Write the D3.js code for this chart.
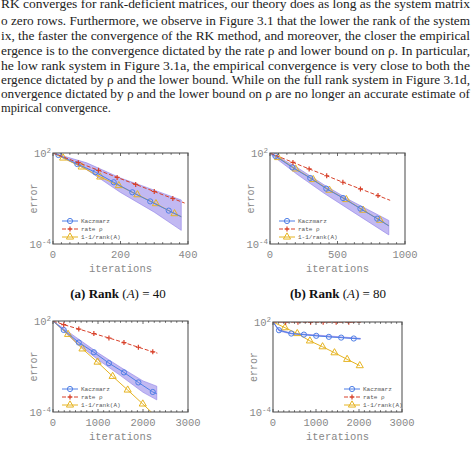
<!DOCTYPE html>
<html><head><meta charset="utf-8">
<script src="https://cdn.jsdelivr.net/npm/d3@7"></script>
<style>body{margin:0;background:#fff}</style>
</head><body><svg id="fig" width="474" height="453"></svg>
<script>
// paragraph lines above the figure (left edge cut off in the reference)
const textLines = [
  ["RK converges for rank-deficient matrices, our theory does as long as the system matrix", 1, 4],
  ["o zero rows. Furthermore, we observe in Figure 3.1 that the lower the rank of the system", 1, 21],
  ["ix, the faster the convergence of the RK method, and moreover, the closer the empirical", 1, 36],
  ["ergence is to the convergence dictated by the rate \u03c1 and lower bound on \u03c1. In particular,", 1, 51],
  ["he low rank system in Figure 3.1a, the empirical convergence is very close to both the", 1, 66],
  ["ergence dictated by \u03c1 and the lower bound. While on the full rank system in Figure 3.1d,", 1, 80],
  ["onvergence dictated by \u03c1 and the lower bound on \u03c1 are no longer an accurate estimate of", 1, 94],
  ["mpirical convergence.", 1, 108]
];

// values are log10(error)
const kaczA = {x: [0, 16, 72, 126, 180, 235, 288, 343, 380], y: [2, 1.87, 1.27, 0.73, 0.07, -0.59, -1.19, -1.8, -2.2], m: [1, 2, 3, 4, 5, 6, 7]};
const rateA = {x: [0, 75, 135, 190, 245, 300, 355, 390], y: [2, 1.36, 0.86, 0.39, -0.07, -0.54, -1.0, -1.3], m: [1, 2, 3, 4, 5, 6]};
const lowA = {x: [0, 30, 85, 140, 195, 250, 305, 360, 380], y: [2, 1.67, 1.08, 0.42, -0.15, -0.75, -1.34, -2.0, -2.2], m: [1, 2, 3, 4, 5, 6, 7]};
const bandA = {x: [0, 100, 200, 300, 380], hi: [2, 1.35, 0.35, -0.45, -1.1], lo: [2, 0.9, -0.6, -1.9, -3.1]};

const kaczB = {x: [0, 40, 166, 298, 417, 541, 670, 794, 880], y: [2, 1.8, 1.05, 0.35, -0.35, -0.97, -1.67, -2.33, -2.8], m: [1, 2, 3, 4, 5, 6, 7]};
const rateB = {x: [0, 170, 290, 420, 540, 670, 800, 890], y: [2, 1.38, 0.95, 0.5, 0.07, -0.37, -0.81, -1.12], m: [1, 2, 3, 4, 5, 6]};
const lowB = {x: [0, 60, 190, 320, 440, 565, 690, 815, 880], y: [2, 1.7, 0.95, 0.25, -0.45, -1.07, -1.77, -2.43, -2.8], m: [1, 2, 3, 4, 5, 6, 7]};
const bandB = {x: [0, 200, 400, 600, 880], hi: [2.05, 1.05, -0.1, -1.15, -2.45], lo: [1.95, 0.6, -0.65, -1.8, -3.4]};

const kaczC = {x: [0, 238, 573, 908, 1243, 1577, 1897, 2217, 2306], y: [2, 1.41, 0.58, -0.06, -0.78, -1.39, -2.05, -2.68, -2.8], m: [1, 2, 3, 4, 5, 6, 7]};
const rateC = {x: [0, 238, 573, 908, 1243, 1577, 1897, 2217, 2320], y: [2, 1.76, 1.47, 1.17, 0.88, 0.58, 0.27, -0.03, -0.12], m: [1, 2, 3, 4, 5, 6, 7]};
const lowC = {x: [0, 335, 655, 990, 1325, 1660, 1995, 2400], y: [2, 1.12, 0.16, -0.71, -1.65, -2.55, -3.47, -4.6], m: [1, 2, 3, 4, 5, 6]};
const bandC = {x: [0, 500, 1000, 1500, 2000, 2306], hi: [2, 0.95, -0.1, -1.05, -1.95, -2.3], lo: [2, 0.6, -0.55, -1.6, -2.7, -3.2]};

const kaczD = {x: [0, 139, 425, 719, 1005, 1299, 1585, 1878, 2033], y: [2, 1.45, 1.23, 1.16, 1.08, 1.01, 0.96, 0.9, 0.88], m: [1, 2, 3, 4, 5, 6, 7]};
const rateD = {x: [0, 294, 580, 874, 1167, 1469, 1762, 2050], y: [1.99, 1.99, 1.99, 1.98, 1.98, 1.98, 1.98, 1.98], m: [1, 2, 3, 4, 5, 6]};
const lowD = {x: [0, 278, 564, 858, 1152, 1430, 1724, 2018], y: [2, 1.62, 1.23, 0.74, 0.35, -0.05, -0.49, -0.91], m: [1, 2, 3, 4, 5, 6, 7]};
const bandD = {x: [0, 139, 425, 2033], hi: [2, 1.5, 1.26, 0.91], lo: [2, 1.4, 1.2, 0.86]};

const panels = [
  {box: [53, 153, 188, 244], xmax: 400, xticks: [0, 200, 400], k: kaczA, r: rateA, l: lowA, b: bandA, cap: ["(a) ", "Rank", "40"], capX: 118, capY: 298, leg: [62, 221]},
  {box: [270, 153, 405, 244], xmax: 1000, xticks: [0, 500, 1000], k: kaczB, r: rateB, l: lowB, b: bandB, cap: ["(b) ", "Rank", "80"], capX: 338, capY: 298, leg: [279, 221]},
  {box: [53, 321, 188, 412], xmax: 3000, xticks: [0, 1000, 2000, 3000], k: kaczC, r: rateC, l: lowC, b: bandC, leg: [62, 389]},
  {box: [273, 322, 402, 412], xmax: 3000, xticks: [0, 1000, 2000, 3000], k: kaczD, r: rateD, l: lowD, b: bandD, leg: [344, 389]}
];

const blue = "#4f7fe6", red = "#d8412a", gold = "#e6b422", band = "#8f7fe8", grey = "#888";
const svg = d3.select("#fig");
const serif = "'Liberation Serif', 'DejaVu Serif', serif";

textLines.forEach(([t, x, y], i) => {
  const el = svg.append("text").attr("x", x).attr("y", y + 4)
    .attr("font-family", serif).attr("font-size", 12.4).attr("fill", "#222").text(t);
  if (i < 7) el.attr("textLength", 470 - x).attr("lengthAdjust", "spacingAndGlyphs");
});

const mono = "'Liberation Mono', 'DejaVu Sans Mono', monospace";

panels.forEach(p => {
  const [x0, y0, x1, y1] = p.box;
  const x = d3.scaleLinear().domain([0, p.xmax]).range([x0, x1]);
  const y = d3.scaleLog().domain([1e-4, 1e2]).range([y1, y0]);
  const g = svg.append("g");
  const clipId = "c" + x0 + y0;
  g.append("clipPath").attr("id", clipId).append("rect").attr("x", x0).attr("y", y0).attr("width", x1 - x0).attr("height", y1 - y0);
  const plot = g.append("g").attr("clip-path", `url(#${clipId})`);

  const pts = s => s.x.map((v, i) => [v, Math.pow(10, s.y[i])]);
  const bandPts = p.b.x.map((v, i) => ({x: v, hi: Math.pow(10, p.b.hi[i]), lo: Math.pow(10, p.b.lo[i])}));
  plot.append("path").attr("d", d3.area().x(d => x(d.x)).y0(d => y(d.lo)).y1(d => y(d.hi))(bandPts))
    .attr("fill", band).attr("fill-opacity", 0.55).attr("stroke", band).attr("stroke-width", 0.6);

  const line = d3.line().x(d => x(d[0])).y(d => y(d[1]));
  const drawSeries = (s, color, dash, marker) => {
    const d = pts(s);
    plot.append("path").attr("d", line(d)).attr("fill", "none").attr("stroke", color)
      .attr("stroke-width", 1).attr("stroke-dasharray", dash);
    s.m.forEach(i => drawMarker(plot, x(d[i][0]), y(d[i][1]), color, marker));
  };
  drawSeries(p.l, gold, null, "tri");
  drawSeries(p.k, blue, null, "circ");
  drawSeries(p.r, red, "4,2", "plus");

  // axes box
  g.append("rect").attr("x", x0).attr("y", y0).attr("width", x1 - x0).attr("height", y1 - y0)
    .attr("fill", "none").attr("stroke", "#666").attr("stroke-width", 1.2);
  const minor = d3.range(0, p.xmax + 1e-9, p.xmax / (p.xticks.length - 1) / 8);
  minor.forEach(v => {
    const big = p.xticks.includes(Math.round(v));
    const len = big ? 3 : 1.8;
    g.append("line").attr("x1", x(v)).attr("x2", x(v)).attr("y1", y0).attr("y2", y0 + len).attr("stroke", "#444").attr("stroke-width", 0.8);
    g.append("line").attr("x1", x(v)).attr("x2", x(v)).attr("y1", y1).attr("y2", y1 - len).attr("stroke", "#444").attr("stroke-width", 0.8);
  });
  p.xticks.forEach(v => {
    g.append("text").attr("x", x(v)).attr("y", y1 + 14).attr("text-anchor", "middle")
      .attr("font-family", mono).attr("font-size", 10.5).attr("fill", grey).text(v);
  });
  [[1e2, "2"], [1e-4, "-4"]].forEach(([v, e]) => {
    const t = g.append("text").attr("x", x0 - 2).attr("y", y(v) + 4).attr("text-anchor", "end")
      .attr("font-family", mono).attr("font-size", 10.5).attr("fill", grey);
    t.append("tspan").text("10");
    t.append("tspan").attr("dy", -4).attr("font-size", 7.5).text(e);
  });
  g.append("text").attr("transform", `translate(${x0 - 16},${(y0 + y1) / 2}) rotate(-90)`).attr("text-anchor", "middle")
    .attr("font-family", mono).attr("font-size", 10).attr("fill", grey).text("error");
  g.append("text").attr("x", (x0 + x1) / 2).attr("y", y1 + 28).attr("text-anchor", "middle")
    .attr("font-family", mono).attr("font-size", 10.5).attr("fill", grey).text("iterations");

  // legend
  const [lx, ly] = p.leg;
  [[blue, null, "circ", "Kaczmarz"], [red, "4,2", "plus", "rate \u03c1"], [gold, null, "tri", "1-1/rank(A)"]].forEach(([c, dash, m, lab], i) => {
    const yy = ly + i * 8;
    g.append("line").attr("x1", lx).attr("x2", lx + 16).attr("y1", yy).attr("y2", yy).attr("stroke", c).attr("stroke-dasharray", dash);
    drawMarker(g, lx + 8, yy, c, m);
    g.append("text").attr("x", lx + 19).attr("y", yy + 2).attr("font-family", mono).attr("font-size", 6).attr("fill", "#555").text(lab);
  });

  if (p.cap) {
    const t = svg.append("text").attr("x", p.capX).attr("y", p.capY).attr("text-anchor", "middle")
      .attr("font-family", serif).attr("font-size", 13).attr("fill", "#111");
    t.append("tspan").attr("font-weight", "bold").text(p.cap[0]);
    t.append("tspan").attr("font-weight", "bold").text(p.cap[1]);
    t.append("tspan").text(" (");
    t.append("tspan").attr("font-style", "italic").text("A");
    t.append("tspan").text(") = " + p.cap[2]);
  }
});

function drawMarker(sel, cx, cy, color, kind) {
  if (kind === "circ") {
    sel.append("circle").attr("cx", cx).attr("cy", cy).attr("r", 2.6).attr("fill", "none").attr("stroke", color).attr("stroke-width", 1);
  } else if (kind === "tri") {
    sel.append("path").attr("d", d3.symbol(d3.symbolTriangle, 22)()).attr("transform", `translate(${cx},${cy})`)
      .attr("fill", "none").attr("stroke", color).attr("stroke-width", 1);
  } else {
    sel.append("path").attr("d", `M${cx - 2.5},${cy}H${cx + 2.5}M${cx},${cy - 2.5}V${cy + 2.5}`).attr("stroke", color).attr("stroke-width", 1.2);
  }
}
</script></body></html>
